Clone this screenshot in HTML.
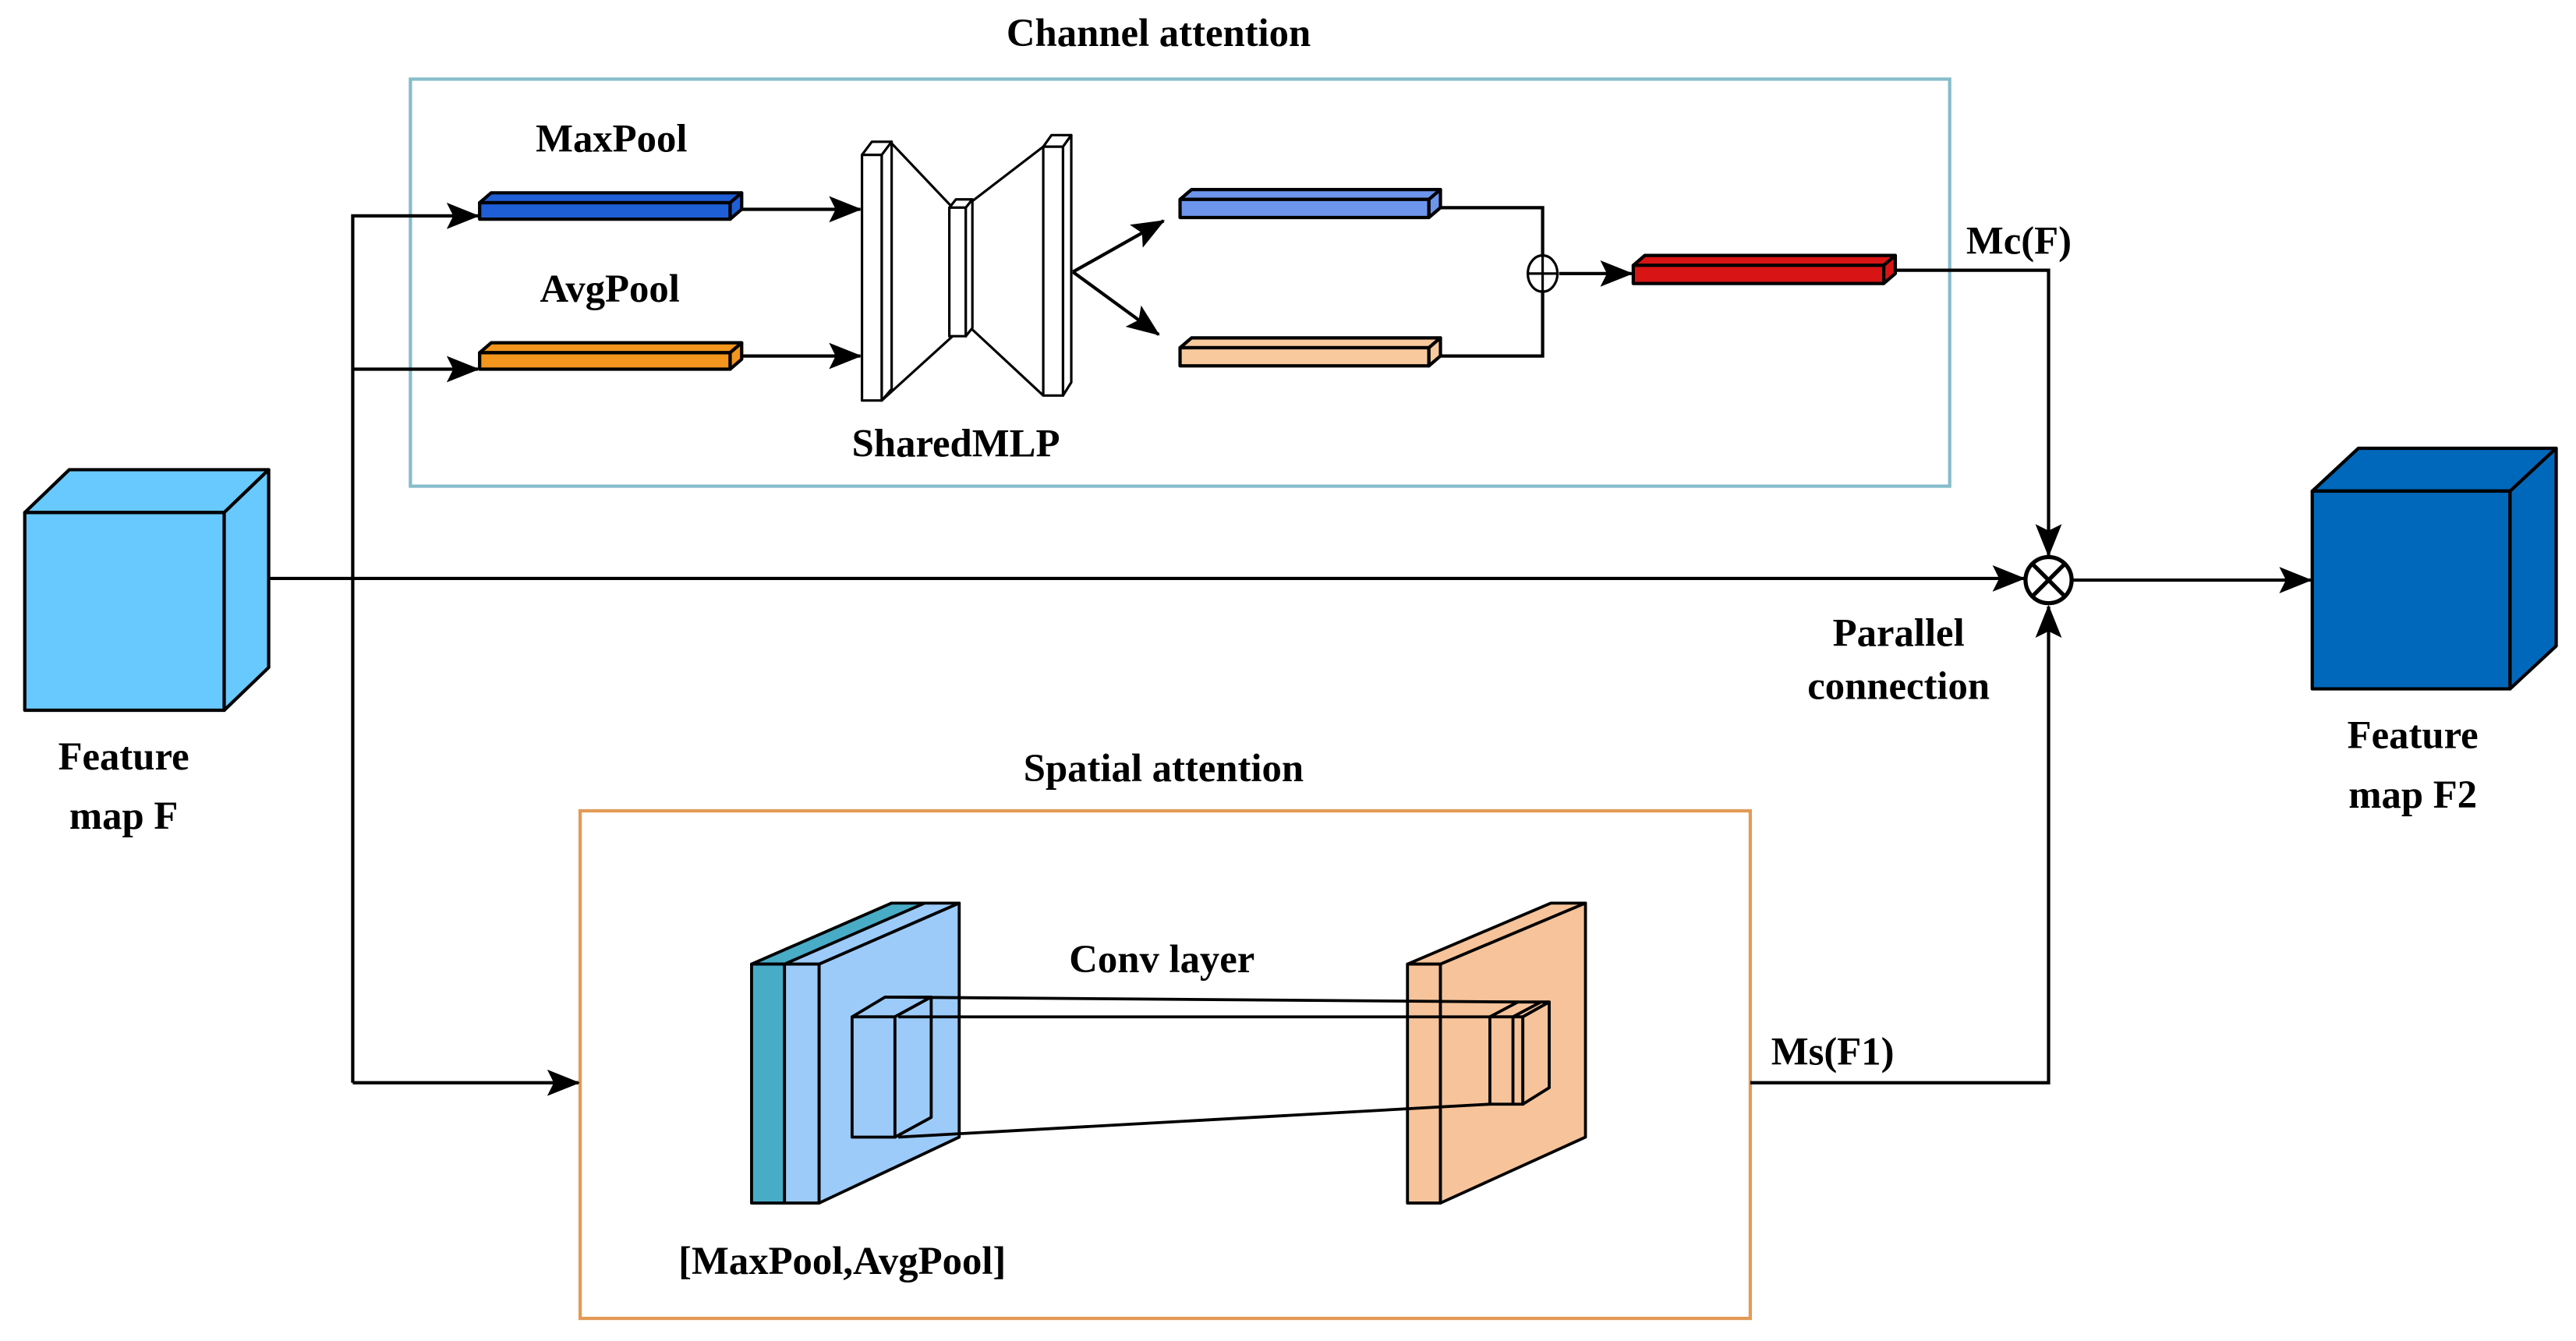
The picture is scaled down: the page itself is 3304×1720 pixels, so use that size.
<!DOCTYPE html>
<html><head><meta charset="utf-8"><style>html,body{margin:0;padding:0;background:#fff}svg{display:block}</style></head><body>
<svg width="3304" height="1720" viewBox="0 0 1563 813.7" xmlns="http://www.w3.org/2000/svg" font-family="Liberation Serif, serif" font-weight="bold" font-size="24">
<defs>
<marker id="b" markerWidth="20" markerHeight="16" refX="19" refY="8" orient="auto" markerUnits="userSpaceOnUse" viewBox="0 0 20 16"><path d="M0,0 L20,8 L0,16 L4,8 z" fill="#000"/></marker></defs>
<g text-anchor="middle" fill="#000">
<text x="703" y="28">Channel attention</text>
<text x="371" y="92">MaxPool</text>
<text x="370" y="183">AvgPool</text>
<text x="580" y="277">SharedMLP</text>
<text x="1225" y="154">Mc(F)</text>
<text x="1152" y="392">Parallel</text>
<text x="1152" y="424">connection</text>
<text x="75" y="467">Feature</text>
<text x="75" y="503">map F</text>
<text x="1464" y="454">Feature</text>
<text x="1464" y="490">map F2</text>
<text x="706" y="474">Spatial attention</text>
<text x="705" y="590">Conv layer</text>
<text x="1112" y="646">Ms(F1)</text>
<text x="511" y="773">[MaxPool,AvgPool]</text>
</g>
<rect x="249" y="48" width="934" height="247" fill="none" stroke="#86bccb" stroke-width="2"/>
<rect x="352" y="492" width="710" height="308" fill="none" stroke="#e39a56" stroke-width="2"/>
<g stroke="#000" stroke-width="2" fill="none">
<path d="M214,657 V131 H290" marker-end="url(#b)"/>
<path d="M214,224 H290" marker-end="url(#b)"/>
<path d="M214,657 H351" marker-end="url(#b)"/>
<path d="M450,127 H522" marker-end="url(#b)"/>
<path d="M450,216 H522" marker-end="url(#b)"/>
<path d="M651,165 L706,134" marker-end="url(#b)"/>
<path d="M651,165 L703,203" marker-end="url(#b)"/>
<path d="M874,126 H936 V216 H874"/>
<path d="M946,166 H990" marker-end="url(#b)"/>
<path d="M1150,164 H1243 V337" marker-end="url(#b)"/>
<path d="M163,351 H1228" marker-end="url(#b)"/>
<path d="M1258,352 H1402" marker-end="url(#b)"/>
<path d="M1062,657 H1243 V368" marker-end="url(#b)"/>
</g>
<ellipse cx="936" cy="166" rx="9" ry="11" fill="#fff" stroke="#000" stroke-width="1.5"/>
<path d="M927,166 H945 M936,155 V177" stroke="#000" stroke-width="1.5"/>
<circle cx="1243" cy="352" r="14" fill="#fff" stroke="#000" stroke-width="2.5"/>
<path d="M1233,342 L1253,362 M1253,342 L1233,362" stroke="#000" stroke-width="2.5"/>
<g stroke="#000" stroke-width="2" stroke-linejoin="round">
<g fill="#1f5fd6"><path d="M291,123 L298,117 H450 L443,123 Z"/><rect x="291" y="123" width="152" height="10"/><path d="M443,123 L450,117 V127 L443,133 Z"/></g>
<g fill="#f2961e"><path d="M291,214 L298,208 H450 L443,214 Z"/><rect x="291" y="214" width="152" height="10"/><path d="M443,214 L450,208 V218 L443,224 Z"/></g>
<g fill="#6d95ec"><path d="M716,121 L723,115 H874 L867,121 Z"/><rect x="716" y="121" width="151" height="11"/><path d="M867,121 L874,115 V126 L867,132 Z"/></g>
<g fill="#f7c99c"><path d="M716,211 L723,205 H874 L867,211 Z"/><rect x="716" y="211" width="151" height="11"/><path d="M867,211 L874,205 V216 L867,222 Z"/></g>
<g fill="#d81414"><path d="M991,161 L998,155 H1150 L1143,161 Z"/><rect x="991" y="161" width="152" height="11"/><path d="M1143,161 L1150,155 V166 L1143,172 Z"/></g>
<g fill="#fff" stroke-width="1.5">
<path d="M541,87 L578,126 M535,243 L578,204 M633,89 L590,122 M633,240 L590,200"/>
<path d="M523,94 L529,86 H541 L535,94 Z"/><rect x="523" y="94" width="12" height="149"/><path d="M535,94 L541,86 V236 L535,243 Z"/>
<path d="M576,126 L580,121 H590 L586,126 Z"/><rect x="576" y="126" width="10" height="78"/><path d="M586,126 L590,121 V199 L586,204 Z"/>
<path d="M633,89 L638,82 H650 L645,89 Z"/><rect x="633" y="89" width="12" height="151"/><path d="M645,89 L650,82 V232 L645,240 Z"/>
</g>
<g fill="#67c9fd"><path d="M15,311 L42,285 H163 L136,311 Z"/><rect x="15" y="311" width="121" height="120"/><path d="M136,311 L163,285 V405 L136,431 Z"/></g>
<g fill="#0068bb"><path d="M1403,298 L1431,272 H1551 L1523,298 Z"/><rect x="1403" y="298" width="120" height="120"/><path d="M1523,298 L1551,272 V392 L1523,418 Z"/></g>
<g stroke-width="1.8">
<path d="M456,585 L541,548 H582 L497,585 Z" fill="#9ccbfa"/>
<path d="M456,585 L541,548 H561 L476,585 Z" fill="#49acc6"/>
<rect x="456" y="585" width="20" height="145" fill="#49acc6"/>
<rect x="476" y="585" width="21" height="145" fill="#9ccbfa"/>
<path d="M497,585 L582,548 V690 L497,730 Z" fill="#9ccbfa"/>
<path d="M517,617 L537,605 H565 L545,617 Z M543,617 L565,605" fill="#9ccbfa"/>
<rect x="517" y="617" width="26" height="73" fill="#9ccbfa"/>
<path d="M543,617 L565,605 V678 L543,690 Z" fill="#9ccbfa"/>
<path d="M854,585 L941,548 H962 L874,585 Z" fill="#f6c39a"/>
<rect x="854" y="585" width="20" height="145" fill="#f6c39a"/>
<path d="M874,585 L962,548 V690 L874,730 Z" fill="#f6c39a"/>
<path d="M904,617 L921,608 H940 L924,617 Z M918,617 L935,608" fill="#f6c39a"/>
<rect x="904" y="617" width="20" height="53" fill="#f6c39a"/>
<path d="M924,617 L940,608 V660 L924,670 Z" fill="#f6c39a"/>
<path d="M918,617 V670" fill="none"/>
<path d="M537,605 L921,608 M545,617 L904,617 M545,690 L904,670" fill="none"/>
</g>
</g>
</svg>
</body></html>
